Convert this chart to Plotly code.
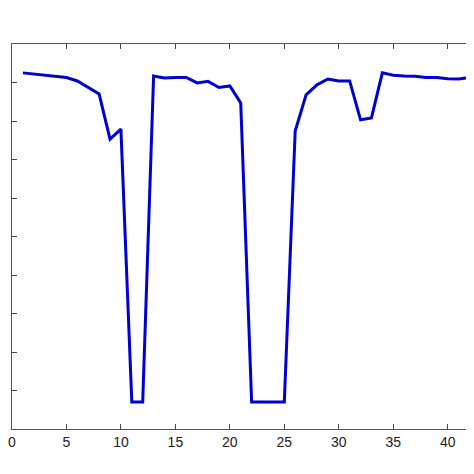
import plotly.graph_objects as go

x_vals = list(range(1, 44))
y_vals = [9.25, 9.22, 9.19, 9.17, 9.13, 9.04, 8.86, 8.70, 7.53, 7.79,
          0.70, 0.70, 9.17, 9.12, 9.13, 9.13, 8.99, 9.03, 8.87, 8.91,
          8.47, 0.70, 0.70, 0.70, 0.70, 7.74, 8.68, 8.94, 9.09, 9.04,
          9.04, 8.03, 8.08, 9.25, 9.19, 9.17, 9.16, 9.13, 9.13, 9.10,
          9.09, 9.13, 9.14]
x_ticks = [0, 5, 10, 15, 20, 25, 30, 35, 40]

fig = go.Figure(go.Scatter(x=x_vals, y=y_vals, mode="lines",
                           line=dict(color="#0000d0", width=3)))
fig.update_layout(
    width=474, height=474, margin=dict(l=4, r=0, t=36, b=53, autoexpand=False),
    plot_bgcolor="white", paper_bgcolor="white", showlegend=False,
    font=dict(family="Arial", size=14, color="#222"),
)
fig.update_xaxes(range=[0, 43.15], tickvals=x_ticks, ticks="inside", ticklen=5,
                 showline=True, linecolor="#555", mirror="allticks", automargin=False,
                 showgrid=False, zeroline=False)
fig.update_yaxes(range=[0, 10], tickvals=list(range(0, 11)), showticklabels=False,
                 ticks="inside", ticklen=5, showline=True, linecolor="#555",
                 mirror="allticks", showgrid=False, zeroline=False, automargin=False)
fig.write_html("out.html")
